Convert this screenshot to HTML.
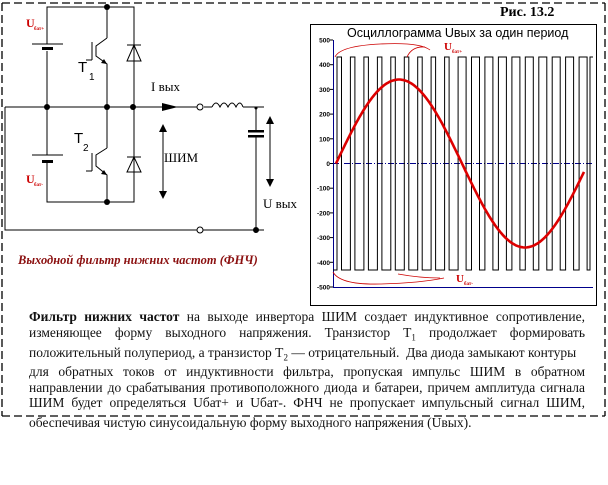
<!DOCTYPE html>
<html><head><meta charset="utf-8"><style>
body{margin:0;background:#fff;width:608px;height:485px;overflow:hidden;position:relative;font-family:"Liberation Serif",serif}
svg{position:absolute;left:0;top:0}
.p{position:absolute;left:29px;width:556px;font-size:13.5px;line-height:16px;text-align:justify;text-align-last:justify;color:#111;white-space:nowrap}
</style></head><body>
<svg width="608" height="485" id="s">
<g fill="none" stroke="#000" stroke-width="1.3" stroke-dasharray="8,4">
<line x1="2" y1="3" x2="605" y2="3"/><line x1="2" y1="3" x2="2" y2="416"/><line x1="605" y1="3" x2="605" y2="416"/><line x1="2" y1="416" x2="605" y2="416"/>
</g>
<g stroke="#000" stroke-width="1" fill="none">
<polyline points="47,44 47,7 134,7 134,202 47,202 47,163"/>
<line x1="47" y1="51" x2="47" y2="155"/>
<line x1="5" y1="107" x2="200" y2="107"/>
<polyline points="5,107 5,230 264,230"/>
<line x1="32" y1="44" x2="63" y2="44"/><line x1="32" y1="155" x2="63" y2="155"/>
<line x1="107" y1="7" x2="107" y2="38"/><polyline points="107,38 96,46 96,56 107,64 107,107"/>
<line x1="92" y1="42" x2="92" y2="60"/><line x1="92" y1="60" x2="86" y2="60"/>
<line x1="107" y1="107" x2="107" y2="148"/><polyline points="107,148 96,155 96,166 107,175 107,202"/>
<line x1="92" y1="153" x2="92" y2="171"/><line x1="92" y1="171" x2="86" y2="171"/>
<line x1="127" y1="45" x2="141" y2="45"/><polygon points="134,45 127,61 141,61"/>
<line x1="127" y1="157" x2="141" y2="157"/><polygon points="134,157 127,172 141,172"/>
<line x1="204" y1="107" x2="212" y2="107"/>
<path d="M212,107 q4,-8 8,0 q4,-8 8,0 q4,-8 8,0 q4,-8 7,0"/>
<line x1="243" y1="107" x2="264" y2="107"/>
<line x1="256" y1="107" x2="256" y2="131"/><line x1="256" y1="136" x2="256" y2="230"/>
<line x1="163" y1="130" x2="163" y2="193"/><line x1="270" y1="122" x2="270" y2="181"/>
</g>
<g fill="#000">
<rect x="42" y="47" width="11" height="3"/><rect x="42" y="160" width="11" height="3"/>
<circle cx="107" cy="7" r="3"/><circle cx="47" cy="107" r="3"/><circle cx="107" cy="107" r="3"/><circle cx="133" cy="107" r="3"/><circle cx="107" cy="202" r="3"/><circle cx="256" cy="230" r="3"/><circle cx="256" cy="108" r="1.5"/>
<rect x="248" y="130" width="16" height="2.5"/><rect x="248" y="135" width="16" height="2.5"/>
<polygon points="162,103 178,107 162,111"/>
<polygon points="163,124 159,132 167,132"/><polygon points="163,199 159,191 167,191"/>
<polygon points="270,116 266,124 274,124"/><polygon points="270,187 266,179 274,179"/>
<polygon points="101,63 107,64 104,59"/><polygon points="101,174 107,175 104,170"/>
</g>
<circle cx="200" cy="107" r="3" fill="#fff" stroke="#000"/><circle cx="200" cy="230" r="3" fill="#fff" stroke="#000"/>
<g font-family="Liberation Sans,sans-serif" font-size="15" fill="#000">
<text x="78" y="72">T</text><text x="89" y="80" font-size="10">1</text>
<text x="74" y="143">T</text><text x="83" y="151" font-size="10">2</text>
<text x="151" y="91" font-family="Liberation Serif,serif" font-size="13">I вых</text>
<text x="164" y="162" font-family="Liberation Serif,serif" font-size="13">ШИМ</text>
<text x="263" y="208" font-family="Liberation Serif,serif" font-size="13">U вых</text>
</g>
<g fill="#c00" font-weight="bold" font-family="Liberation Serif,serif">
<text x="26" y="27" font-size="12">U</text><text x="34" y="30" font-size="5">бат+</text>
<text x="26" y="183" font-size="12">U</text><text x="34" y="186" font-size="5">бат-</text>
</g>
<text x="18" y="264" fill="#8b1010" font-weight="bold" font-style="italic" font-size="12.5" font-family="Liberation Serif,serif">Выходной фильтр нижних частот (ФНЧ)</text>
<text x="500" y="16" font-weight="bold" font-size="14" font-family="Liberation Serif,serif">Рис. 13.2</text>
<rect x="310.5" y="24.5" width="286" height="281" fill="none" stroke="#000"/>
<text x="347" y="37" font-size="12.5" font-family="Liberation Sans,sans-serif">Осциллограмма Uвых за один период</text>
<line x1="333.5" y1="40" x2="333.5" y2="287" stroke="#00008b"/>
<line x1="333" y1="287.5" x2="593" y2="287.5" stroke="#00008b"/>
<line x1="333" y1="163.5" x2="593" y2="163.5" stroke="#00008b" stroke-dasharray="6,2,1,2"/>
<g id="ticks" font-size="6.5" font-weight="bold" font-family="Liberation Sans,sans-serif" text-anchor="end"></g>
<path id="pwm" fill="none" stroke="#000" stroke-width="1"/>
<path id="sin" fill="none" stroke="#d00" stroke-width="2.6"/>
<g fill="none" stroke="#c00" stroke-width="0.8">
<path d="M335,57 Q340,46 380,44 Q420,42 430,50"/><path d="M407,57 Q412,46 425,47"/>
<path d="M333,272 Q340,285 380,284 Q420,283 444,278"/><path d="M398,274 Q420,278 440,278"/>
</g>
<g fill="#c00" font-weight="bold" font-family="Liberation Serif,serif">
<text x="444" y="50" font-size="11">U</text><text x="452" y="53" font-size="5">бат+</text>
<text x="456" y="282" font-size="11">U</text><text x="464" y="285" font-size="5">бат-</text>
</g>
</svg>
<div class="p" style="top:309px"><b>Фильтр нижних частот</b> на выходе инвертора ШИМ создает индуктивное сопротивление,</div>
<div class="p" style="top:325px">изменяющее форму выходного напряжения. Транзистор T<sub style="font-size:9px">1</sub> продолжает формировать</div>
<div class="p" style="top:345px;text-align-last:left">положительный полупериод, а транзистор T<sub style="font-size:9px">2</sub> — отрицательный.&nbsp; Два диода замыкают контуры</div>
<div class="p" style="top:364px">для обратных токов от индуктивности фильтра, пропуская импульс ШИМ в обратном</div>
<div class="p" style="top:380px">направлении до срабатывания противоположного диода и батареи, причем амплитуда сигнала</div>
<div class="p" style="top:395px">ШИМ будет определяться Uбат+ и Uбат-. ФНЧ не пропускает импульсный сигнал ШИМ,</div>
<div class="p" style="top:415px;text-align-last:left">обеспечивая чистую синусоидальную форму выходного напряжения (Uвых).</div>
<script>
(function(){
var ns="http://www.w3.org/2000/svg",g=document.getElementById("ticks");
for(var v=500;v>=-500;v-=100){var y=163.5-v*0.247;var t=document.createElementNS(ns,"text");t.setAttribute("x",330);t.setAttribute("y",y+2.5);t.textContent=v;g.appendChild(t);
var l=document.createElementNS(ns,"line");l.setAttribute("x1",330);l.setAttribute("x2",333);l.setAttribute("y1",y);l.setAttribute("y2",y);l.setAttribute("stroke","#000");g.appendChild(l);}
var hi=57,lo=270,d="M333,"+lo;
for(var k=0;k<19;k++){var x=337+13.45*k;var w=k<9?4.5:8;d+=" L"+x.toFixed(1)+","+lo+" L"+x.toFixed(1)+","+hi+" L"+(x+w).toFixed(1)+","+hi+" L"+(x+w).toFixed(1)+","+lo;}
d+=" L590,"+lo+" L590,"+hi+" L593,"+hi;
document.getElementById("pwm").setAttribute("d",d);
var s="";for(var x=336;x<=584;x++){var y=163.5-340*0.247*Math.sin((x-336)/252*2*Math.PI);s+=(x==336?"M":"L")+x+","+y.toFixed(1)+" ";}
document.getElementById("sin").setAttribute("d",s);
})();
</script>
</body></html>
